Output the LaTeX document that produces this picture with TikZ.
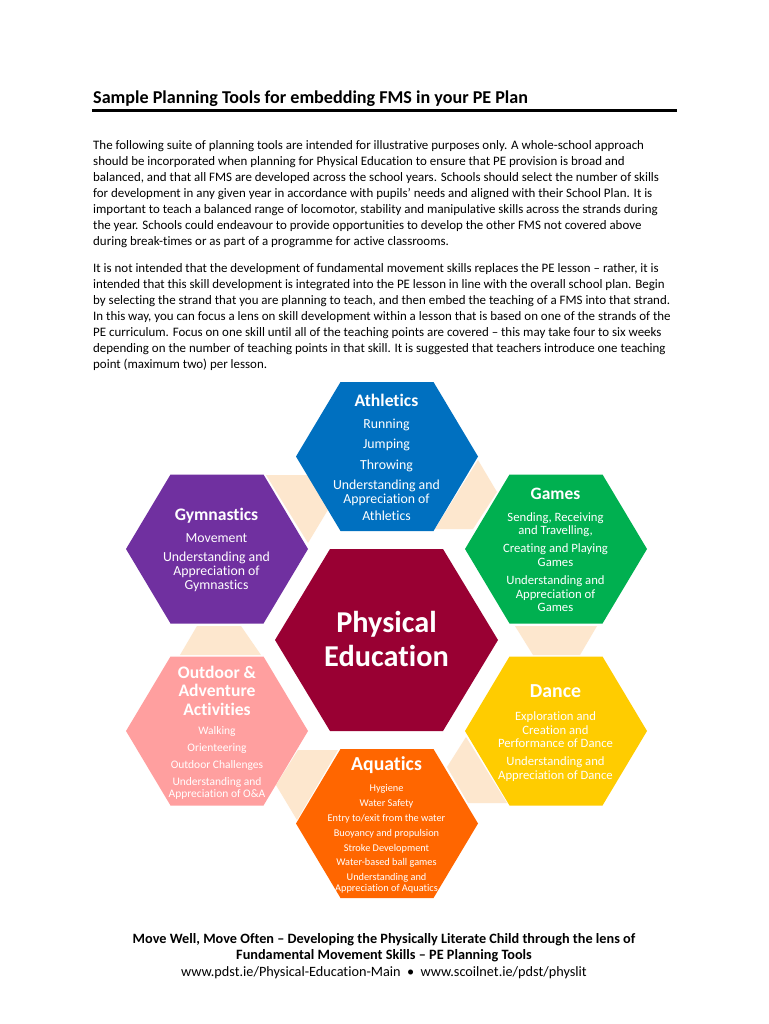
\documentclass[tikz,border=0pt]{standalone}
\usepackage{fontspec}
\setmainfont[RawFeature=-liga]{Carlito}
\definecolor{peach}{HTML}{FDE7CE}
\definecolor{cath}{HTML}{0070C0}
\definecolor{cgym}{HTML}{7030A0}
\definecolor{cgam}{HTML}{00B050}
\definecolor{coa}{HTML}{FF9F9F}
\definecolor{cdan}{HTML}{FFCC00}
\definecolor{caq}{HTML}{FF6600}
\definecolor{cpe}{HTML}{990033}
\newcommand{\hexa}[2]{(#1-91,#2) -- (#1-46.5,#2-74.5) -- (#1+46.5,#2-74.5) -- (#1+91,#2) -- (#1+46.5,#2+74.5) -- (#1-46.5,#2+74.5) -- cycle}
\tikzset{x=1pt,y=-1pt,
  hexhead/.style={white,font=\bfseries\fontsize{#1}{#1}\selectfont,anchor=center,inner sep=0pt,yshift=-0.8pt},
  hexline/.style={white,font=\fontsize{#1}{#1}\selectfont,anchor=center,inner sep=0pt,align=center,yshift=-0.8pt},
  para/.style={anchor=north west,inner sep=0pt,align=left,font=\fontsize{12.93}{16}\selectfont},
  foot/.style={anchor=center,inner sep=0pt,font=\fontsize{14.25}{14}\selectfont},
  link/.style={fill=peach,draw=none}}
\begin{document}
\begin{tikzpicture}
\useasboundingbox (0,0) rectangle (768,1024);
\fill[white] (0,0) rectangle (768,1024);
\node[anchor=west,inner sep=0pt,font=\bfseries\fontsize{18.1}{18}\selectfont] (title) at (93,99) {Sample Planning Tools for embedding FMS in your PE Plan};
\coordinate (ruleL) at (92,110.5);
\coordinate (ruleR) at (677,110.5);
\draw[line width=2.6pt] (ruleL) -- (ruleR);
\node[para] (p1) at (93,140.5) {The following suite of planning tools are intended for illustrative purposes only. A whole-school approach\\
should be incorporated when planning for Physical Education to ensure that PE provision is broad and\\
balanced, and that all FMS are developed across the school years. Schools should select the number of skills\\
for development in any given year in accordance with pupils' needs and aligned with their School Plan. It is\\
important to teach a balanced range of locomotor, stability and manipulative skills across the strands during\\
the year. Schools could endeavour to provide opportunities to develop the other FMS not covered above\\
during break-times or as part of a programme for active classrooms.};
\node[para] (p2) at (93,263) {It is not intended that the development of fundamental movement skills replaces the PE lesson – rather, it is\\
intended that this skill development is integrated into the PE lesson in line with the overall school plan. Begin\\
by selecting the strand that you are planning to teach, and then embed the teaching of a FMS into that strand.\\
In this way, you can focus a lens on skill development within a lesson that is based on one of the strands of the\\
PE curriculum. Focus on one skill until all of the teaching points are covered – this may take four to six weeks\\
depending on the number of teaching points in that skill. It is suggested that teachers introduce one teaching\\
point (maximum two) per lesson.};
% links
\fill[link] (266,475) -- (309,475) -- (329,508) -- (308,543) -- cycle;
\fill[link] (478,460) -- (497,492) -- (473,529) -- (435,529) -- cycle;
\fill[link] (515,626) -- (597,626) -- (580,655) -- (533,655) -- cycle;
\fill[link] (197,626) -- (241,626) -- (261,655) -- (180,655) -- cycle;
\fill[link] (298,750) -- (338,750) -- (297,820) -- (276,785) -- cycle;
\fill[link] (447,767) -- (466,737) -- (507,803) -- (468,803) -- cycle;
% hexagons
\fill[cath] \hexa{387}{456.5};
\fill[cgym] \hexa{217}{549};
\fill[cgam] \hexa{556}{549};
\fill[coa] \hexa{217}{731};
\fill[cdan] \hexa{556}{731};
\fill[caq] \hexa{387}{823.5};
\fill[cpe] (275,640) -- (330,549) -- (443,549) -- (498,640) -- (443,731) -- (330,731) -- cycle;
% centre
\node[hexhead=30.3] (pe1) at (386.5,623.5) {Physical};
\node[hexhead=30.3] (pe2) at (386.5,655) {Education};
% Athletics
\node[hexhead=17.6] (ath) at (386.5,400) {Athletics};
\node[hexline=13.8] (ath1) at (386.5,424) {Running};
\node[hexline=13.8] (ath2) at (386.5,444) {Jumping};
\node[hexline=13.8] (ath3) at (386.5,465) {Throwing};
\node[hexline=13.8] (ath4) at (386.5,485) {Understanding and};
\node[hexline=13.8] (ath5) at (386.5,499.5) {Appreciation of};
\node[hexline=13.8] (ath6) at (386.5,514.5) {Athletics};
% Gymnastics
\node[hexhead=17.6] (gym) at (216.5,514.5) {Gymnastics};
\node[hexline=13.8] (gym1) at (216.5,537.5) {Movement};
\node[hexline=13.8] (gym2) at (216.5,557.5) {Understanding and};
\node[hexline=13.8] (gym3) at (216.5,571) {Appreciation of};
\node[hexline=13.8] (gym4) at (216.5,585) {Gymnastics};
% Games
\node[hexhead=17.4] (gam) at (555.5,493.5) {Games};
\node[hexline=12.7] (gam1) at (555.5,517) {Sending, Receiving};
\node[hexline=12.7] (gam2) at (555.5,530.5) {and Travelling,};
\node[hexline=12.7] (gam3) at (555.5,548.5) {Creating and Playing};
\node[hexline=12.7] (gam4) at (555.5,561.5) {Games};
\node[hexline=12.7] (gam5) at (555.5,580.5) {Understanding and};
\node[hexline=12.7] (gam6) at (555.5,594) {Appreciation of};
\node[hexline=12.7] (gam7) at (555.5,607) {Games};
% Outdoor
\node[hexhead=17.6] (oa1) at (217,671.5) {Outdoor \&};
\node[hexhead=17.6] (oa2) at (217,690) {Adventure};
\node[hexhead=17.6] (oa3) at (217,709) {Activities};
\node[hexline=11.5] (oa4) at (217,731) {Walking};
\node[hexline=11.5] (oa5) at (217,747.5) {Orienteering};
\node[hexline=11.5] (oa6) at (217,764.5) {Outdoor Challenges};
\node[hexline=11.5] (oa7) at (217,782) {Understanding and};
\node[hexline=11.5] (oa8) at (217,793.5) {Appreciation of O\&A};
% Dance
\node[hexhead=19.8] (dan) at (555.5,690) {Dance};
\node[hexline=12.7] (dan1) at (555.5,716) {Exploration and};
\node[hexline=12.7] (dan2) at (555.5,729.5) {Creation and};
\node[hexline=12.7] (dan3) at (555.5,742.5) {Performance of Dance};
\node[hexline=12.7] (dan4) at (555.5,761.5) {Understanding and};
\node[hexline=12.7] (dan5) at (555.5,775) {Appreciation of Dance};
% Aquatics
\node[hexhead=19.8] (aq) at (386.5,764.5) {Aquatics};
\node[hexline=10.3] (aq1) at (386.5,788) {Hygiene};
\node[hexline=10.3] (aq2) at (386.5,803) {Water Safety};
\node[hexline=10.3] (aq3) at (386.5,817.5) {Entry to/exit from the water};
\node[hexline=10.3] (aq4) at (386.5,833) {Buoyancy and propulsion};
\node[hexline=10.3] (aq5) at (386.5,847.5) {Stroke Development};
\node[hexline=10.3] (aq6) at (386.5,862) {Water-based ball games};
\node[hexline=10.3] (aq7) at (386.5,877) {Understanding and};
\node[hexline=10.3] (aq8) at (386.5,888) {Appreciation of Aquatics};
% footer
\node[foot,font=\bfseries\fontsize{14.25}{14}\selectfont] (f1) at (384,940) {Move Well, Move Often – Developing the Physically Literate Child through the lens of};
\node[foot,font=\bfseries\fontsize{14.25}{14}\selectfont] (f2) at (384,956) {Fundamental Movement Skills – PE Planning Tools};
\node[foot] (f3) at (384,972.5) {www.pdst.ie/Physical-Education-Main\ \ •\ \ www.scoilnet.ie/pdst/physlit};
\end{tikzpicture}
\end{document}
